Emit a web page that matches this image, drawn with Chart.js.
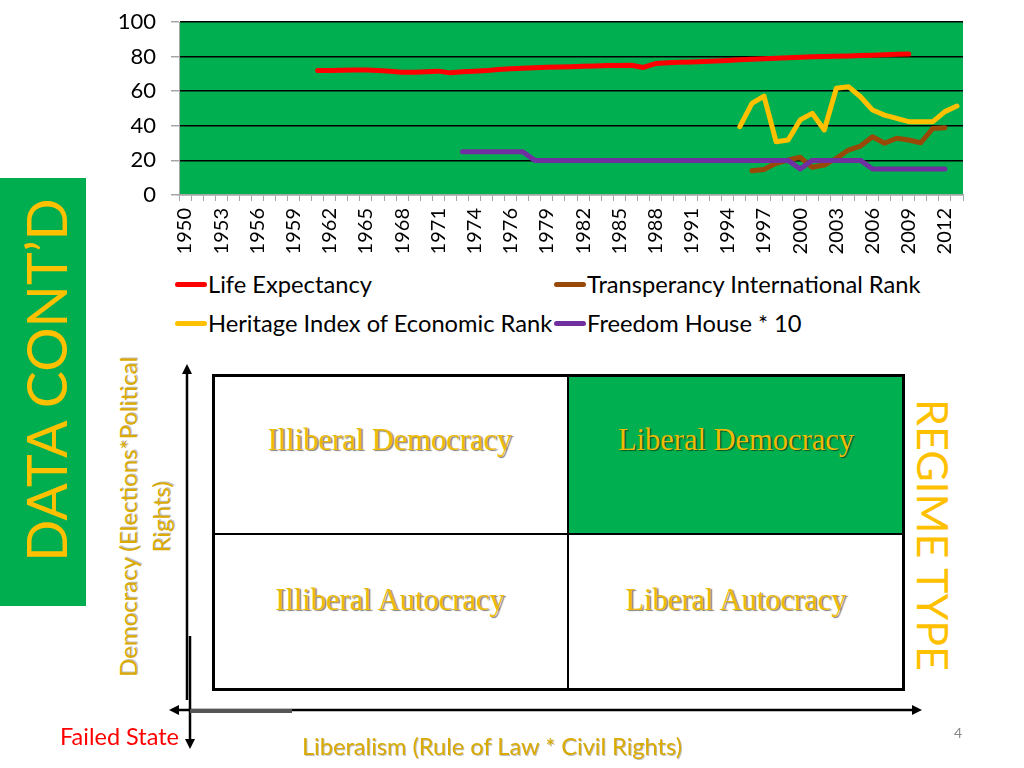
<!DOCTYPE html>
<html>
<head>
<meta charset="utf-8">
<script src="https://cdn.jsdelivr.net/npm/chart.js@4.4.1/dist/chart.umd.min.js"></script>
<style>
  html, body { margin:0; padding:0; background:#fff; }
  body { width:1024px; height:768px; position:relative; overflow:hidden; font-family: Lato, "Open Sans", sans-serif; }
  #wrap { position:absolute; left:0; top:0; width:1024px; height:265px; }
  .abs { position:absolute; white-space:nowrap; }
  .rot { transform: translate(-50%,-50%) rotate(-90deg); }
  .rotp { transform: translate(-50%,-50%) rotate(90deg); }
  .leg { position:absolute; height:30px; display:flex; align-items:center; font-size:23.7px; color:#000; white-space:nowrap; transform: translateY(-50%); }
  .leg .sw { display:inline-block; width:32px; height:5px; border-radius:3px; margin-right:1px; }
  .cellText { position:absolute; font-family:"Liberation Serif", "DejaVu Serif", serif; font-size:30.5px; color:#EDBB06;
              text-shadow: 1.5px 1.5px 1px rgba(0,0,0,0.5); transform: translate(-50%,-50%); white-space:nowrap; }
  .gold { color:#DAAA00; text-shadow: 1px 1px 0.5px rgba(0,0,0,0.25); }
</style>
</head>
<body>
<div id="wrap"><canvas id="c" width="1024" height="265"></canvas></div>
<div id="legend"></div>

<!-- slide decorations -->
<div class="abs" style="left:0;top:178px;width:86px;height:428px;background:#00AE4F;"></div>
<div class="abs rot" style="left:46px;top:380px;font-size:55.5px;font-weight:400;color:#FFC000;line-height:1;">DATA CONT’D</div>
<div class="abs rotp" style="left:933px;top:535px;font-size:43px;font-weight:400;color:#FFC000;line-height:1;">REGIME TYPE</div>
<div class="abs rot gold" style="left:144px;top:517px;font-size:24px;line-height:33px;text-align:center;">Democracy (Elections*Political<br>Rights)</div>

<div class="abs" style="left:212px;top:374px;width:693px;height:317px;border:3px solid #000;box-sizing:border-box;"></div>
<div class="abs" style="left:568px;top:377px;width:334px;height:157px;background:#00B050;"></div>
<div class="abs" style="left:567px;top:377px;width:2px;height:311px;background:#000;"></div>
<div class="abs" style="left:215px;top:533px;width:687px;height:2px;background:#000;"></div>
<div class="cellText" style="left:390px;top:440px;">Illiberal Democracy</div>
<div class="cellText" style="left:736px;top:440px;">Liberal Democracy</div>
<div class="cellText" style="left:390px;top:600px;">Illiberal Autocracy</div>
<div class="cellText" style="left:736px;top:600px;">Liberal Autocracy</div>

<svg class="abs" style="left:0;top:0;" width="1024" height="768">
  <line x1="187" y1="700" x2="187" y2="372" stroke="#000" stroke-width="2.5"/>
  <polygon points="187,364 182,374 192,374" fill="#000"/>
  <line x1="190" y1="636" x2="190" y2="740" stroke="#000" stroke-width="2.5"/>
  <polygon points="190,749 185,739 195,739" fill="#000"/>
  <line x1="178" y1="710" x2="913" y2="710" stroke="#000" stroke-width="2.5"/>
  <polygon points="169,710 179,705 179,715" fill="#000"/>
  <polygon points="922,710 912,705 912,715" fill="#000"/>
  <line x1="190" y1="711" x2="292" y2="711" stroke="#555" stroke-width="4"/>
</svg>

<div class="abs" style="left:60px;top:722px;font-size:23.5px;color:#FF0000;">Failed State</div>
<div class="abs gold" style="left:302px;top:732px;font-size:23.6px;">Liberalism (Rule of Law * Civil Rights)</div>
<div class="abs" style="left:954px;top:724px;font-size:14px;color:#888;">4</div>

<script>
// ---- data ----
const years = ["1950","1951","1952","1953","1954","1955","1956","1957","1958","1959",
  "1960","1961","1962","1963","1964","1965","1966","1967","1968","1969",
  "1970","1971","1972","1973","1974","1975","1975","1976","1977","1978",
  "1979","1980","1981","1982","1983","1984","1985","1986","1987","1988",
  "1989","1990","1991","1992","1993","1994","1995","1996","1997","1998",
  "1999","2000","2001","2002","2003","2004","2005","2006","2007","2008",
  "2009","2010","2011","2012","2013"];

const lifeExpectancy = [null,null,null,null,null,null,null,null,null,null,
  null,71.9,72.0,72.1,72.2,72.3,72.0,71.5,71.0,70.9,
  71.3,71.6,70.6,71.2,71.5,71.9,72.6,73.0,73.3,73.6,
  73.8,74.0,74.2,74.4,74.6,74.8,74.8,75.0,73.7,76.0,
  76.5,76.7,76.9,77.2,77.5,77.8,78.2,78.5,78.8,79.0,
  79.3,79.6,79.9,80.0,80.2,80.4,80.6,80.8,81.0,81.3,
  81.5,null,null,null,null];

const transparencyRank = [null,null,null,null,null,null,null,null,null,null,
  null,null,null,null,null,null,null,null,null,null,
  null,null,null,null,null,null,null,null,null,null,
  null,null,null,null,null,null,null,null,null,null,
  null,null,null,null,null,null,null,14.0,14.8,18.3,
  20.2,21.8,16.0,17.3,21.2,26.0,28.3,33.7,29.9,32.8,
  31.8,30.2,38.5,38.9,null];

const heritageRank = [null,null,null,null,null,null,null,null,null,null,
  null,null,null,null,null,null,null,null,null,null,
  null,null,null,null,null,null,null,null,null,null,
  null,null,null,null,null,null,null,null,null,null,
  null,null,null,null,null,null,39.5,53,57.2,30.8,
  31.8,43.4,47.2,37.6,61.7,62.6,56.8,49.1,46.2,44.3,
  42.4,42.4,42.4,48.2,51.4];

const freedomHouse10 = [null,null,null,null,null,null,null,null,null,null,
  null,null,null,null,null,null,null,null,null,null,
  null,null,null,25,25,25,25,25,25,20,
  20,20,20,20,20,20,20,20,20,20,
  20,20,20,20,20,20,20,20,20,20,
  20,15,20,20,20,20,20,15,15,15,
  15,15,15,15,null];

const yTicks = [0,20,40,60,80,100];

const seriesNames = ["Life Expectancy","Transperancy International Rank","Heritage Index of Economic Rank","Freedom House * 10"];
const seriesColors = ["#FF0000","#984807","#FFC000","#7030A0"];
const seriesData = [lifeExpectancy, transparencyRank, heritageRank, freedomHouse10];

// ---- chart ----
const plotBg = {
  id:'plotBg',
  beforeDraw(c){
    const {ctx, chartArea:a} = c;
    ctx.save(); ctx.fillStyle = '#00B050';
    ctx.fillRect(a.left, a.top, a.right - a.left, a.bottom - a.top);
    ctx.restore();
  }
};

const datasets = seriesNames.map((n, i) => ({
  label: n,
  data: seriesData[i],
  borderColor: seriesColors[i],
  backgroundColor: seriesColors[i],
  borderWidth: 5,
  pointRadius: 0,
  pointHoverRadius: 0,
  tension: 0,
  fill: false,
  spanGaps: false,
  borderCapStyle: 'round',
  borderJoinStyle: 'round',
  order: seriesNames.length - i
}));

const chart = new Chart(document.getElementById('c'), {
  type: 'line',
  data: { labels: years, datasets },
  options: {
    responsive: false,
    animation: false,
    devicePixelRatio: 1,
    layout: { padding: { top: 22, right: 61, left: 0, bottom: 0 } },
    plugins: { legend: { display: false }, tooltip: { enabled: false } },
    scales: {
      x: {
        offset: true,
        grid: { offset: true, drawOnChartArea: false, color: '#A6A6A6', tickLength: 6, lineWidth: 1 },
        border: { color: '#A6A6A6', width: 1.5 },
        ticks: {
          autoSkip: false, maxRotation: 90, minRotation: 90, padding: 7,
          color: '#000', font: { family: 'Lato', size: 20 },
          callback: (v, i) => (i % 3 === 0 ? years[i] : '')
        },
        afterFit: s => { s.height = 70; }
      },
      y: {
        min: yTicks[0], max: yTicks[yTicks.length - 1],
        afterBuildTicks: s => { s.ticks = yTicks.map(v => ({ value: v })); },
        grid: {
          color: c => (c.tick && c.tick.value === 0 ? '#A6A6A6' : '#000'),
          lineWidth: 1.5, tickColor: '#A6A6A6', tickLength: 8
        },
        border: { color: '#A6A6A6', width: 1 },
        ticks: { color: '#000', font: { family: 'Lato', size: 22 }, padding: 15 },
        afterFit: s => { s.width = 179; s.paddingTop = 0; s.paddingBottom = 0; }
      }
    }
  },
  plugins: [plotBg]
});

// ---- HTML legend (built from datasets) ----
const legendTextLeft = [[208,284],[587,284],[208,323],[587,323]];
const lg = document.getElementById('legend');
chart.data.datasets.forEach((d, i) => {
  const el = document.createElement('div');
  el.className = 'leg';
  el.style.left = (legendTextLeft[i][0] - 33) + 'px';
  el.style.top = legendTextLeft[i][1] + 'px';
  el.innerHTML = '<span class="sw" style="background:' + d.borderColor + '"></span><span>' + d.label + '</span>';
  lg.appendChild(el);
});
</script>
</body>
</html>
